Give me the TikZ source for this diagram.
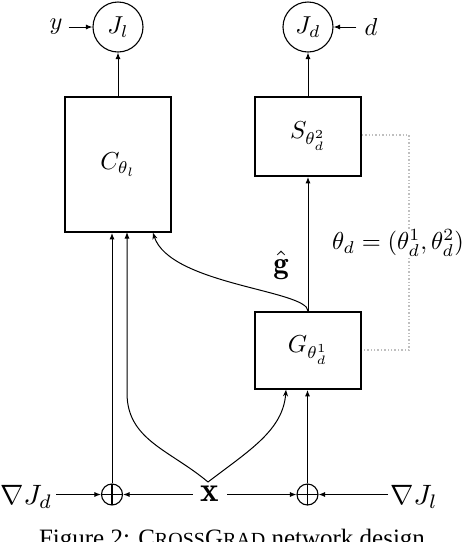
\documentclass[tikz,border=0pt]{standalone}
\usepackage{graphicx}
\usepackage{fontspec}
\newfontfamily\capfont{Liberation Serif}
\usetikzlibrary{arrows.meta}
\newcommand{\mtx}[1]{\scalebox{2.45}{$#1$}}
\newcommand{\mtb}[1]{\scalebox{2.8}{$#1$}}
\begin{document}
\begin{tikzpicture}[x=1pt,y=-1pt,
  font=\normalsize,
  every node/.style={inner sep=2pt},
  blk/.style={draw,line width=1.7pt,rectangle,inner sep=0pt},
  loss/.style={draw,line width=1.1pt,circle,minimum size=50pt,inner sep=0pt},
  oplus/.style={draw,line width=1.1pt,circle,minimum size=21pt,inner sep=0pt,
    path picture={\draw[line width=1.1pt] (path picture bounding box.north) -- (path picture bounding box.south)
      (path picture bounding box.west) -- (path picture bounding box.east);}},
  arr/.style={line width=1pt,-{Latex[length=6.5pt,width=5pt]}},
  carr/.style={line width=1pt,-{Stealth[length=6.5pt,width=5pt]}},
  param/.style={draw=black!25,line width=1.4pt,dotted}]
\useasboundingbox (0,0) rectangle (464,542);
% losses
\node[loss] (Jl) at (118,27) {\mtx{J_l}};
\node[loss] (Jd) at (308,27) {\mtx{J_d}};
\node (y) at (56,27) {\mtx{y}};
\node (d) at (371,27) {\mtx{d}};
% blocks
\node[blk,minimum width=106pt,minimum height=135pt] (C) at (118,164.5) {\mtx{C_{\theta_l}}};
\node[blk,minimum width=106pt,minimum height=79pt] (S) at (308,136.5) {\mtx{S_{\theta_d^2}}};
\node[blk,minimum width=106pt,minimum height=77pt] (G) at (308,350.5) {\mtx{G_{\theta_d^1}}};
% bottom row
\node[oplus] (pl) at (112,494.5) {};
\node[oplus] (pr) at (307.5,494.5) {};
\node[inner sep=8pt] (x) at (210,494) {\scalebox{3.5}{$\mathbf{x}$}};
\coordinate (cusp) at (208,482);
\node[anchor=west,inner sep=0pt] (gd) at (0,497) {\mtb{\nabla J_d}};
\node[anchor=west,inner sep=0pt] (gl) at (390,497) {\mtb{\nabla J_l}};
% labels
\node (gh) at (281,265) {\scalebox{3.1}{$\hat{\mathbf{g}}$}};
% dotted parameter bracket
\draw[param] (S.east |- 0,135) -- (409,135) -- (409,350) -- (G.east |- 0,350);
\node[fill=white,inner sep=1pt] (th) at (398,243) {\mtx{\theta_d=(\theta_d^1,\theta_d^2)}};
% connectors
\draw[arr,shorten <=4pt] (y.east |- Jl) -- (Jl.west);
\draw[arr,shorten <=6pt] (d.west |- Jd) -- (Jd.east);
\draw[arr] (C.north) -- (Jl.south);
\draw[arr] (S.north) -- (Jd.south);
\draw[arr] (G.north) -- (S.south);
\draw[carr] (G.north) .. controls (308,290) and (170,285) .. ([xshift=35pt]C.south);
\draw[arr] (pl.north) -- (pl.north |- C.south);
\draw[arr] (cusp) .. controls (170,450) and (127,440) .. (127,393) -- (127,232);
\draw[carr] (cusp) .. controls (250,450) and (283,430) .. ([xshift=-22pt]G.south);
\draw[arr] (pr.north) -- (pr.north |- G.south);
\draw[arr] (x.west |- pl) -- (pl.east);
\draw[arr] (x.east |- pr) -- (pr.west);
\draw[arr,shorten <=4pt] (gd.east |- pl) -- (pl.west);
\draw[arr,shorten <=2pt] (gl.west |- pr) -- (pr.east);
% caption (cut by the picture's lower edge)
\node[anchor=base,inner sep=0pt,font=\capfont\fontsize{25}{30}\selectfont] (cap) at (232,546)
  {Figure 2: C{\fontsize{20}{24}\selectfont ROSS}G{\fontsize{20}{24}\selectfont RAD} network design};
\end{tikzpicture}
\end{document}
